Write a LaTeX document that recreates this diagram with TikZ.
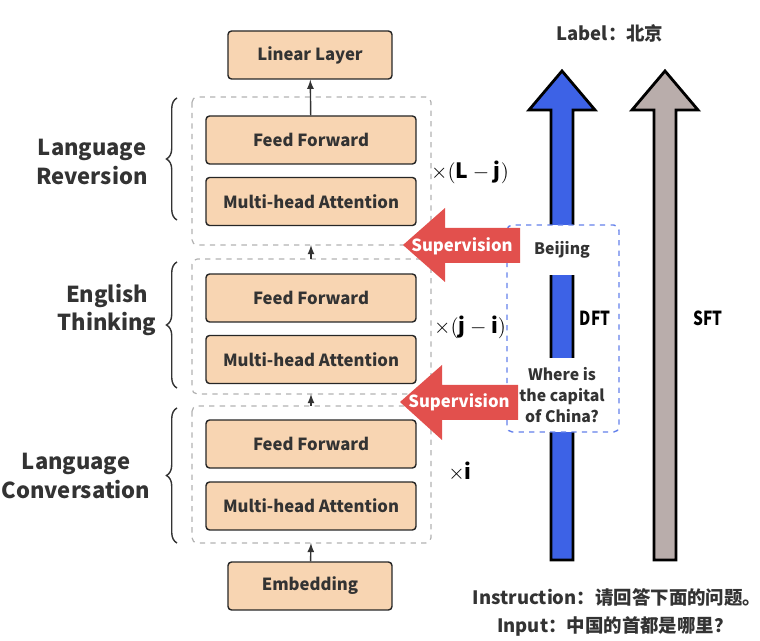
\documentclass[tikz,border=0pt]{standalone}
\usepackage{fontspec}
\setmainfont{Noto Sans CJK SC}
\usetikzlibrary{decorations.pathreplacing,shapes.arrows}
\definecolor{peach}{HTML}{F8D5B2}
\definecolor{bluea}{HTML}{3D62E6}
\definecolor{graya}{HTML}{B9ADAB}
\definecolor{reda}{HTML}{E2504D}
\definecolor{txt}{HTML}{333333}
\begin{document}
\begin{tikzpicture}[x=0.02cm,y=-0.02cm,
 blk/.style={draw=black!85,line width=0.8pt,fill=peach,rounded corners=2pt,minimum height=0.96cm,font=\bfseries\fontsize{9.5}{11}\selectfont,text=txt},
 grp/.style={draw=gray!60,dashed,line width=0.7pt,rounded corners=3pt},
 up/.style={-latex,line width=0.8pt,black!80},
 brc/.style={decorate,decoration={brace,amplitude=6pt},line width=0.8pt,black!80},
 lab/.style={align=center,font=\bfseries\fontsize{12.5}{16}\selectfont,text=txt},
 mult/.style={font=\large},
 big/.style={draw=black,line width=1.6pt},
 sup/.style={fill=reda,draw=none},
 suptxt/.style={text=white,font=\bfseries\fontsize{9.5}{11}\selectfont},
 ft/.style={font=\bfseries\fontsize{11}{12}\selectfont,xscale=0.8}]
\useasboundingbox (0,0) rectangle (760,641);
% big arrows
\draw[big,fill=bluea] (551,560)--(551,110)--(529,110)--(562,71)--(595,110)--(573,110)--(573,560)--cycle;
\draw[big,fill=graya] (654,560)--(654,110)--(632,110)--(665,71)--(698,110)--(676,110)--(676,560)--cycle;
\node[ft] (dft) at (595,318) {DFT};
\node[ft] (sft) at (708,318) {SFT};
% dashed box
\draw[fill=white,draw=none] (507,225) rectangle (619,275);
\draw[fill=white,draw=none] (507,358) rectangle (619,432);
\draw[draw=bluea!80,dashed,line width=0.8pt,rounded corners=3pt] (507,225) rectangle (619,432);
\node[font=\bfseries\fontsize{9}{11}\selectfont,text=txt] (bj) at (562,250) {Beijing};
\node[align=center,font=\bfseries\fontsize{9}{12}\selectfont,text=txt] (q) at (562,395) {Where is\\the capital\\of China?};
% groups
\node[blk,minimum width=3.28cm] (lin) at (310,55) {Linear Layer};
\draw[grp] (192,97) rectangle (431,245);
\node[blk,minimum width=4.2cm] (ff1) at (311,140) {Feed Forward};
\node[blk,minimum width=4.2cm] (mh1) at (311,201.5) {Multi-head Attention};
\draw[grp] (192,259) rectangle (431,394);
\node[blk,minimum width=4.2cm] (ff2) at (311,298) {Feed Forward};
\node[blk,minimum width=4.2cm] (mh2) at (311,359.5) {Multi-head Attention};
\draw[grp] (192,406) rectangle (431,543);
\node[blk,minimum width=4.2cm] (ff3) at (311,444) {Feed Forward};
\node[blk,minimum width=4.2cm] (mh3) at (311,506) {Multi-head Attention};
\node[blk,minimum width=3.28cm] (emb) at (310,586) {Embedding};
\coordinate (g1t) at (311,97); \coordinate (g1b) at (311,245);
\coordinate (g2t) at (311,259); \coordinate (g2b) at (311,394);
\coordinate (g3t) at (311,406); \coordinate (g3b) at (311,543);
\draw[up] (ff1) -- (lin);
\draw[up] (g2t) -- (g1b);
\draw[up] (g3t) -- (g2b);
\draw[up] (emb) -- (g3b);
% braces
\coordinate (b1a) at (177,220); \coordinate (b1b) at (177,98);
\coordinate (b2a) at (177,388); \coordinate (b2b) at (177,262);
\coordinate (b3a) at (177,543); \coordinate (b3b) at (177,408);
\draw[brc] (b1a) -- (b1b);
\draw[brc] (b2a) -- (b2b);
\draw[brc] (b3a) -- (b3b);
\node[lab] (l1) at (92,162) {Language\\Reversion};
\node[lab] (l2) at (107,310) {English\\Thinking};
\node[lab] (l3) at (76,476) {Language\\Conversation};
\node[mult] (m1) at (470,172) {$\times\mathbf{(L-j)}$};
\node[mult] (m2) at (470,327) {$\times\mathbf{(j-i)}$};
\node[mult] (m3) at (460,472) {$\times\mathbf{i}$};
% supervision arrows
\fill[sup] (403,245)--(445,208)--(445,228)--(520,228)--(520,263)--(445,263)--(445,282)--cycle;
\node[suptxt] (s1) at (462,246) {Supervision};
\fill[sup] (400,402)--(442,365)--(442,385)--(518,385)--(518,420)--(442,420)--(442,440)--cycle;
\node[suptxt] (s2) at (459,402) {Supervision};
% texts
\node[font=\bfseries\fontsize{10.5}{12}\selectfont,text=txt] (lbl) at (610,33) {Label：北京};
\node[font=\bfseries\fontsize{10.5}{12}\selectfont,text=txt] (ins) at (617,597) {Instruction：请回答下面的问题。};
\node[font=\bfseries\fontsize{10.5}{12}\selectfont,text=txt] (inp) at (615,626) {Input：中国的首都是哪里？};
\end{tikzpicture}
\end{document}
